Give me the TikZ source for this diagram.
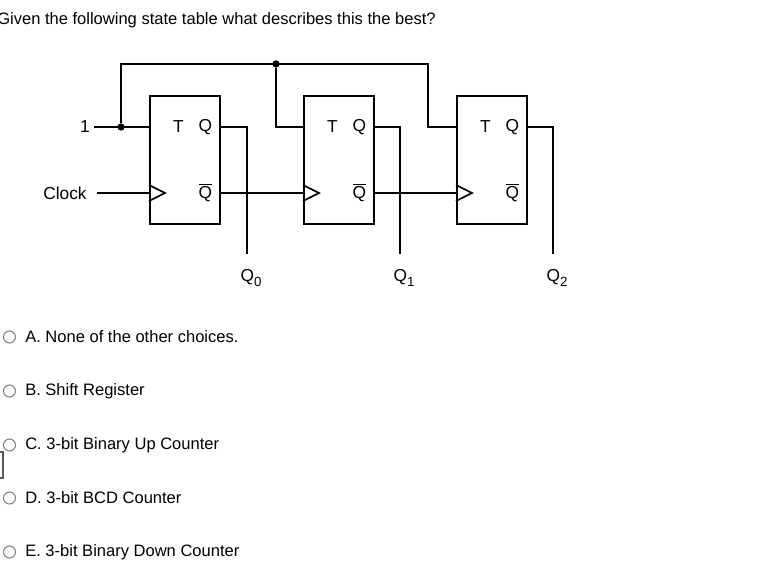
\documentclass[tikz,border=0pt]{standalone}
\usepackage{fontspec}
\setmainfont{Liberation Sans}
\begin{document}
\begin{tikzpicture}[x=0.75pt,y=-0.75pt,
  ff/.style={draw,line width=1.8pt,minimum width=52.5pt,minimum height=96pt,anchor=north west,inner sep=0pt},
  wire/.style={line width=1.2pt},
  lbl/.style={font=\fontsize{13}{15}\selectfont,inner sep=0pt},
  opt/.style={font=\fontsize{12.4}{14}\selectfont,anchor=west,inner sep=0pt},
  radio/.style={draw=gray,line width=0.8pt,circle,minimum size=9pt,inner sep=0pt},
  dot/.style={circle,fill,inner sep=0pt,minimum size=5.5pt}]
\useasboundingbox (0,0) rectangle (762,566);
\node[opt] (title) at (-3,20) {Given the following state table what describes this the best?};
% flip-flops
\node[ff] (f1) at (149,95) {};
\node[ff] (f2) at (303,95) {};
\node[ff] (f3) at (456,95) {};
\foreach \f in {f1,f2,f3}{
  \node[lbl] (\f t) at ([xshift=22pt,yshift=-24pt]\f.north west) {T};
  \node[lbl] (\f q) at ([xshift=-12pt,yshift=-24pt]\f.north east) {Q};
  \node[lbl] (\f qb) at ([xshift=-12pt,yshift=-73pt]\f.north east) {$\overline{\mbox{Q}}$};
  \coordinate (\f T) at (\f.north west |- 0,127);
  \coordinate (\f C) at (\f.north west |- 0,193);
  \coordinate (\f Q) at (\f.north east |- 0,127);
  \coordinate (\f B) at (\f.north east |- 0,193);
  \draw[wire] ([yshift=6pt]\f C) -- ++(12pt,-6pt) -- ++(-12pt,-6pt);
}
\node[lbl] (one) at (85,127) {1};
\node[lbl] (clk) at (65,193) {Clock};
\coordinate (j1) at (121,127);
\coordinate (j2) at (276,64);
\coordinate (tl) at (121,64);
\coordinate (tr) at (428,64);
\node[dot] (d1) at (j1) {};
\node[dot] (d2) at (j2) {};
\draw[wire] (94,127) -- (f1T);
\draw[wire] (97,193) -- (f1C);
\draw[wire] (d1) -- (tl) -- (tr) -- (428,127) -- (f3T);
\draw[wire] (d2) -- (276,127) -- (f2T);
\draw[wire] (f1B) -- (f2C);
\draw[wire] (f2B) -- (f3C);
\node[lbl] (q0) at (251,278) {Q\raisebox{-0.45ex}{\fontsize{10}{11}\selectfont 0}};
\node[lbl] (q1) at (404,278) {Q\raisebox{-0.45ex}{\fontsize{10}{11}\selectfont 1}};
\node[lbl] (q2) at (557,278) {Q\raisebox{-0.45ex}{\fontsize{10}{11}\selectfont 2}};
\draw[wire] (f1Q) -- (247,127) -- (247,254);
\draw[wire] (f2Q) -- (400,127) -- (400,254);
\draw[wire] (f3Q) -- (553,127) -- (553,254);
% options
\foreach \y/\t [count=\i] in {337/A. None of the other choices.,391/B. Shift Register,445/C. 3-bit Binary Up Counter,498/D. 3-bit BCD Counter,552/E. 3-bit Binary Down Counter}{
  \node[radio] (r\i) at (9.5,\y) {};
  \node[opt] (o\i) at (25,\y) {\t};
}
\draw[line width=0.8pt,gray!70!black] (0,452) -- (3,452) -- (3,478) -- (0,478);
\end{tikzpicture}
\end{document}
